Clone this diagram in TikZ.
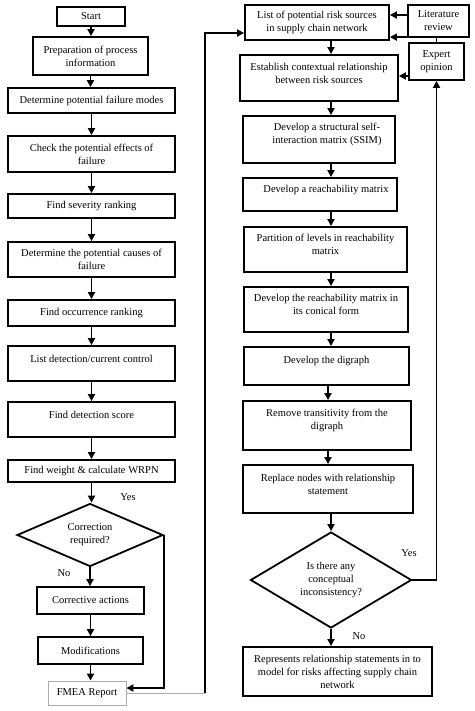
\documentclass[tikz,border=0pt]{standalone}
\usepackage{fontspec}
\setmainfont{Liberation Serif}
\usetikzlibrary{arrows.meta,shapes.geometric,calc}
\begin{document}
\begin{tikzpicture}[x=1pt,y=-1pt,
  txt/.style={font=\fontsize{10.5}{13}\selectfont},
  box/.style={draw, line width=1.8pt, inner sep=1pt, align=center, txt},
  lbl/.style={inner sep=0pt, align=center, txt},
  uptext/.style={label={[lbl,yshift=5pt]center:#1}},
  dec/.style={diamond, draw, line width=1.8pt, inner sep=0pt, align=center, txt},
  arr/.style={line width=1.8pt, -{Triangle[length=7pt,width=7pt]}},
  ln/.style={line width=1.8pt}
]
\useasboundingbox (0,0) rectangle (474,711);

% ---------- left column ----------
\node[box, minimum width=68, minimum height=19] (start) at (91,16.5) {Start};
\node[box, minimum width=115, minimum height=38] (prep) at (90.5,56) {Preparation of process\\information};
\node[box, minimum width=167, minimum height=25] (modes) at (91.5,100.5) {Determine potential failure modes};
\node[box, minimum width=167, minimum height=36] (effects) at (91.5,154) {Check the potential effects of\\failure};
\node[box, minimum width=167, minimum height=24] (sev) at (91.5,206) {Find severity ranking};
\node[box, minimum width=167, minimum height=35] (causes) at (91.5,259.5) {Determine the potential causes of\\failure};
\node[box, minimum width=167, minimum height=26] (occ) at (91.5,313) {Find occurrence ranking};
\node[box, minimum width=167, minimum height=35, uptext={List detection/current control}] (listdet) at (91.5,363.5) {};
\node[box, minimum width=167, minimum height=35, uptext={Find detection score}] (detsc) at (91.5,419.5) {};
\node[box, minimum width=167, minimum height=22] (weight) at (91.5,471) {Find weight \& calculate WRPN};
\node[dec, minimum width=146, minimum height=63, aspect=2.3] (d1) at (90,535) {Correction\\required?};
\node[box, minimum width=107, minimum height=27] (corr) at (90.5,600.5) {Corrective actions};
\node[box, minimum width=105, minimum height=27] (modif) at (90.5,650.5) {Modifications};
\node[box, draw=gray!65, line width=0.9pt, minimum width=78, minimum height=24] (fmea) at (87,693) {FMEA Report};

\node[lbl] (yes1) at (128,497) {Yes};
\node[lbl] (no1) at (64,573) {No};

\draw[arr] (start.south) -- (start.south |- prep.north);
\draw[arr] (prep.south) -- (prep.south |- modes.north);
\draw[arr] (modes.south) -- (modes.south |- effects.north);
\draw[arr] (effects.south) -- (effects.south |- sev.north);
\draw[arr] (sev.south) -- (sev.south |- causes.north);
\draw[arr] (causes.south) -- (causes.south |- occ.north);
\draw[arr] (occ.south) -- (occ.south |- listdet.north);
\draw[arr] (listdet.south) -- (listdet.south |- detsc.north);
\draw[arr] (detsc.south) -- (detsc.south |- weight.north);
\draw[arr] (weight.south) -- (weight.south |- d1.north);
\draw[arr] (d1.south) -- (d1.south |- corr.north);
\draw[arr] (corr.south) -- (corr.south |- modif.north);
\draw[arr] (modif.south) -- (modif.south |- fmea.north);
\coordinate (fy) at ($(fmea.east)+(0,-5)$);
\draw[arr] (d1.east) |- (fy);

% ---------- right column ----------
\node[box, minimum width=144, minimum height=35] (list) at (317,22.5) {List of potential risk sources\\in supply chain network};
\node[box, minimum width=61, minimum height=32] (lit) at (438.5,21) {Literature\\review};
\node[box, minimum width=55, minimum height=37] (expert) at (436.5,61.5) {Expert\\opinion};
\node[box, minimum width=158, minimum height=46, uptext={Establish contextual relationship\\between risk sources}] (estab) at (319,78) {};
\node[box, minimum width=152, minimum height=47, label={[lbl,yshift=5pt,xshift=8pt]center:Develop a structural self-\\interaction matrix (SSIM)}] (ssim) at (319,139.5) {};
\node[box, minimum width=154, minimum height=33, label={[lbl,yshift=5pt,xshift=6pt]center:Develop a reachability matrix}] (reach) at (320,194.5) {};
\node[box, minimum width=163, minimum height=45, uptext={Partition of levels in reachability\\matrix}] (part) at (325.5,249.5) {};
\node[box, minimum width=164, minimum height=45, uptext={Develop the reachability matrix in\\its conical form}] (conic) at (326,309.5) {};
\node[box, minimum width=165, minimum height=38, uptext={Develop the digraph}] (dig) at (326.5,366) {};
\node[box, minimum width=168, minimum height=49, uptext={Remove transitivity from the\\digraph}] (trans) at (327,425.5) {};
\node[box, minimum width=170, minimum height=48, uptext={Replace nodes with relationship\\statement}] (repl) at (328,489) {};
\node[dec, minimum width=161, minimum height=96, aspect=1.68] (d2) at (331,580) {Is there any\\conceptual\\inconsistency?};
\node[box, minimum width=189, minimum height=49] (repr) at (337.5,671.5) {Represents relationship statements in to\\model for risks affecting supply chain\\network};

\node[lbl] (yes2) at (409,553) {Yes};
\node[lbl] (no2) at (359,636) {No};

\coordinate (ax) at (331,0);
\coordinate (bx) at (328,0);
\draw[arr] (list.south -| ax) -- (estab.north -| ax);
\draw[arr] (estab.south -| ax) -- (ssim.north -| ax);
\draw[arr] (ssim.south -| ax) -- (reach.north -| ax);
\draw[arr] (reach.south -| ax) -- (part.north -| ax);
\draw[arr] (part.south -| ax) -- (conic.north -| ax);
\draw[arr] (conic.south -| ax) -- (dig.north -| ax);
\draw[arr] (dig.south -| bx) -- (trans.north -| bx);
\draw[arr] (trans.south -| bx) -- (repl.north -| bx);
\draw[arr] (repl.south -| ax) -- (d2.north);
\draw[arr] (d2.south) -- (d2.south |- repr.north);

% side inputs
\coordinate (litout) at ($(lit.west)+(0,-6)$);
\draw[arr] (litout) -- (litout -| list.east);
\coordinate (ex1) at ($(expert.north)+(0,-5)$);
\draw[arr] (expert.north) -- (ex1) -- (ex1 -| list.east);
\coordinate (ex2) at ($(expert.west)+(0,14.5)$);
\draw[arr] (ex2) -- (ex2 -| estab.east);
\draw[arr] (d2.east) -| (expert.south);

% loop from FMEA report to the list
\coordinate (lp) at (205,33);
\draw[gray!65, line width=0.9pt] (fmea.east) -- (fmea.east -| lp);
\draw[arr] (fmea.east -| lp) -- (lp) -- (lp -| list.west);
\end{tikzpicture}
\end{document}
